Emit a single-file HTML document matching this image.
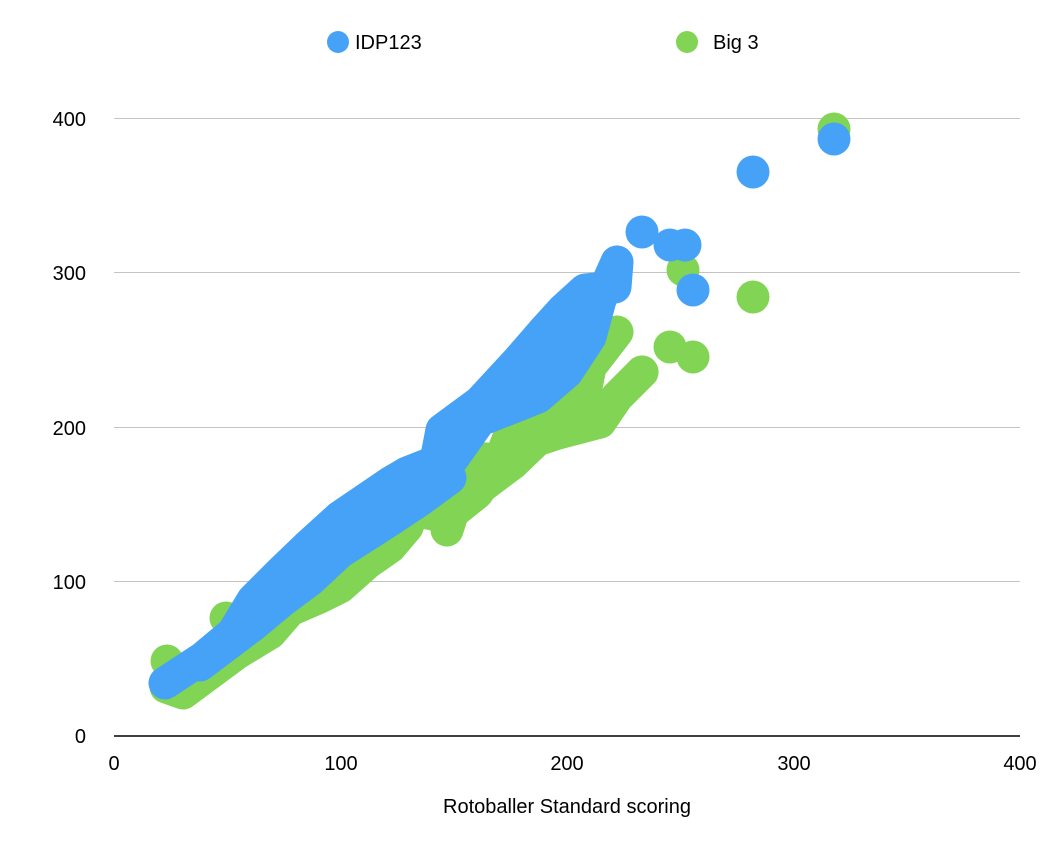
<!DOCTYPE html>
<html><head><meta charset="utf-8"><style>
html,body{margin:0;padding:0;background:#fff;}
svg{display:block;font-family:"Liberation Sans",Arial,sans-serif;}
</style></head><body>
<svg width="1064" height="848" viewBox="0 0 1064 848">
<g stroke="#c4c4c4" stroke-width="1">
<line x1="114" y1="118.5" x2="1020" y2="118.5"/>
<line x1="114" y1="272.5" x2="1020" y2="272.5"/>
<line x1="114" y1="427.5" x2="1020" y2="427.5"/>
<line x1="114" y1="581.5" x2="1020" y2="581.5"/>
</g>
<line x1="114" y1="736" x2="1020" y2="736" stroke="#000" stroke-width="1.5"/>
<g font-size="20" fill="#000" text-anchor="end">
<text x="86" y="126">400</text><text x="86" y="280">300</text><text x="86" y="435">200</text><text x="86" y="589">100</text><text x="86" y="743">0</text>
</g>
<g font-size="20" fill="#000" text-anchor="middle">
<text x="114" y="770">0</text><text x="341" y="770">100</text><text x="567" y="770">200</text><text x="794" y="770">300</text><text x="1020" y="770">400</text>
<text x="567" y="813">Rotoballer Standard scoring</text>
</g>
<circle cx="338" cy="42" r="11" fill="#45a2f6"/>
<text x="355" y="49" font-size="20">IDP123</text>
<circle cx="687" cy="42" r="11" fill="#82d454"/>
<text x="713" y="49" font-size="20">Big 3</text>

<g fill="none" stroke="#82d454" stroke-width="33" stroke-linecap="round" stroke-linejoin="round">
<polyline points="166,687 183,693 210,673 237,653 270,633 290,610 320,597 340,587 367,563 390,547 407,527 413,510 447,517 477,493 493,470 513,463 537,440 558,433 600,422 617,397 642,372"/>
<polyline points="300,580 340,560 380,525 413,510 447,500 470,458 500,460 513,427 583,403 590,367 617,332"/>
<polyline points="447,530 463,480 477,490 513,463"/>
<polyline points="558,433 583,403 600,422"/>
</g>
<g fill="#82d454">
<circle cx="167" cy="661" r="16.5"/><circle cx="226" cy="618" r="16.5"/>
<circle cx="683" cy="270" r="16.5"/><circle cx="670" cy="347" r="16.5"/><circle cx="693" cy="357" r="16.5"/>
<circle cx="753" cy="297" r="16.5"/><circle cx="834" cy="129" r="16.5"/><circle cx="642" cy="372" r="16.5"/>
</g>
<g fill="none" stroke="#45a2f6" stroke-width="33" stroke-linecap="round" stroke-linejoin="round">
<polyline points="165,683 203,658 233,633 253,600 283,570 307,547 340,517 390,483 407,473 440,460 453,458"/>
<polyline points="200,665 253,625 283,600 310,580 340,552 390,520 420,500 450,478"/>
<polygon fill="#45a2f6" points="442,430 480,402 517,362 543,332 563,310 585,290 615,287 617,262 600,300 590,337 567,372 538,397 513,407 480,420 453,458 433,477"/>
<polyline points="390,483 420,470 433,477"/>
</g>
<g fill="#45a2f6">
<circle cx="642" cy="232" r="16.5"/><circle cx="670" cy="245" r="16.5"/><circle cx="685" cy="245" r="16.5"/>
<circle cx="693" cy="290" r="16.5"/><circle cx="753" cy="172" r="16.5"/><circle cx="834" cy="139" r="16.5"/>
</g>
</svg>
</body></html>
